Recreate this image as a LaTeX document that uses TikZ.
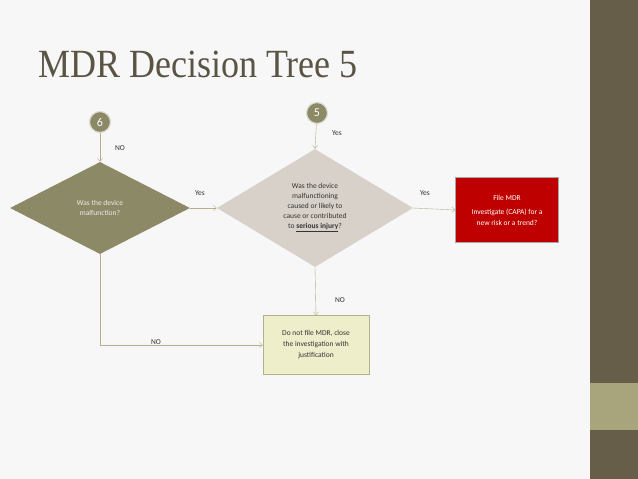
\documentclass[tikz,border=0pt]{standalone}
\usepackage{fontspec}
\setmainfont{Carlito}
\newfontfamily\headfont{Liberation Serif}
\usetikzlibrary{shapes.geometric,arrows.meta}
\definecolor{bar}{HTML}{665E48}
\definecolor{band}{HTML}{A8A57C}
\definecolor{olive}{HTML}{8C8966}
\definecolor{link}{HTML}{B3B08E}
\definecolor{stone}{HTML}{D8D1C9}
\definecolor{pale}{HTML}{EFEECB}
\definecolor{titlec}{HTML}{5A5444}
\tikzset{
  lbl/.style={font=\fontsize{7.5}{9}\selectfont, text=black!80},
  link/.style={draw=link, -{Straight Barb[length=3pt,width=5pt]}},
  marker/.style={circle, draw=white!70!olive, line width=1.2pt, fill=olive, text=white, minimum size=21pt, inner sep=0pt, font=\fontsize{12}{12}\selectfont},
  choice/.style={diamond, aspect=1.9, inner sep=0pt, align=center, font=\fontsize{7.5}{10}\selectfont},
  outcome/.style={rectangle, align=center, font=\fontsize{7.5}{11}\selectfont}
}
\begin{document}
\begin{tikzpicture}[x=1pt,y=-1pt]
  \useasboundingbox (0,0) rectangle (638,479);
  \fill[white!97!black] (0,0) rectangle (638,479);
  \fill[bar] (590,0) rectangle (638,479);
  \fill[band] (590,383) rectangle (638,430);
  \node[anchor=base west, text=titlec, font=\headfont\fontsize{40}{40}\selectfont, inner sep=0pt, xscale=0.9] (title) at (38,77) {MDR Decision Tree 5};

  \node[marker] (m6) at (100,122) {6};
  \node[marker] (m5) at (317,113) {5};

  \node[choice, fill=olive, text=white!85!olive, minimum width=180pt, minimum height=92pt] (d1) at (100,208) {Was the device\\malfunction?};
  \node[choice, fill=stone, text=black!80, minimum width=196pt, minimum height=118pt] (d2) at (315,208) {Was the device\\malfunctioning\\caused or likely to\\cause or contributed\\to \textbf{\underline{serious injury}}?};

  \node[outcome, fill=red!75!black, draw=gray!70, text=white, minimum width=103pt, minimum height=65pt] (mdr) at (507,210) {File MDR\\[3pt]Investigate (CAPA) for a\\new risk or a trend?};
  \node[outcome, fill=pale, draw=link, text=black!80, minimum width=106pt, minimum height=59pt] (close) at (316,345) {Do not file MDR, close\\the investigation with\\justification};

  \draw[link] (m6) -- (d1.north);
  \draw[link] (m5) -- (d2.north);
  \draw[link] (d1.east) -- (d2.west);
  \draw[link] (d2.east) -- (mdr.west);
  \draw[link] (d2.south) -- (close.north);
  \draw[link] (d1.south) |- (close.west);

  \node[lbl] (no6) at (120,148) {NO};
  \node[lbl] (yes5) at (337,133) {Yes};
  \node[lbl] (yes1) at (200,193) {Yes};
  \node[lbl] (yes2) at (425,193) {Yes};
  \node[lbl] (no2) at (340,300) {NO};
  \node[lbl] (no1) at (156,342) {NO};
\end{tikzpicture}
\end{document}
